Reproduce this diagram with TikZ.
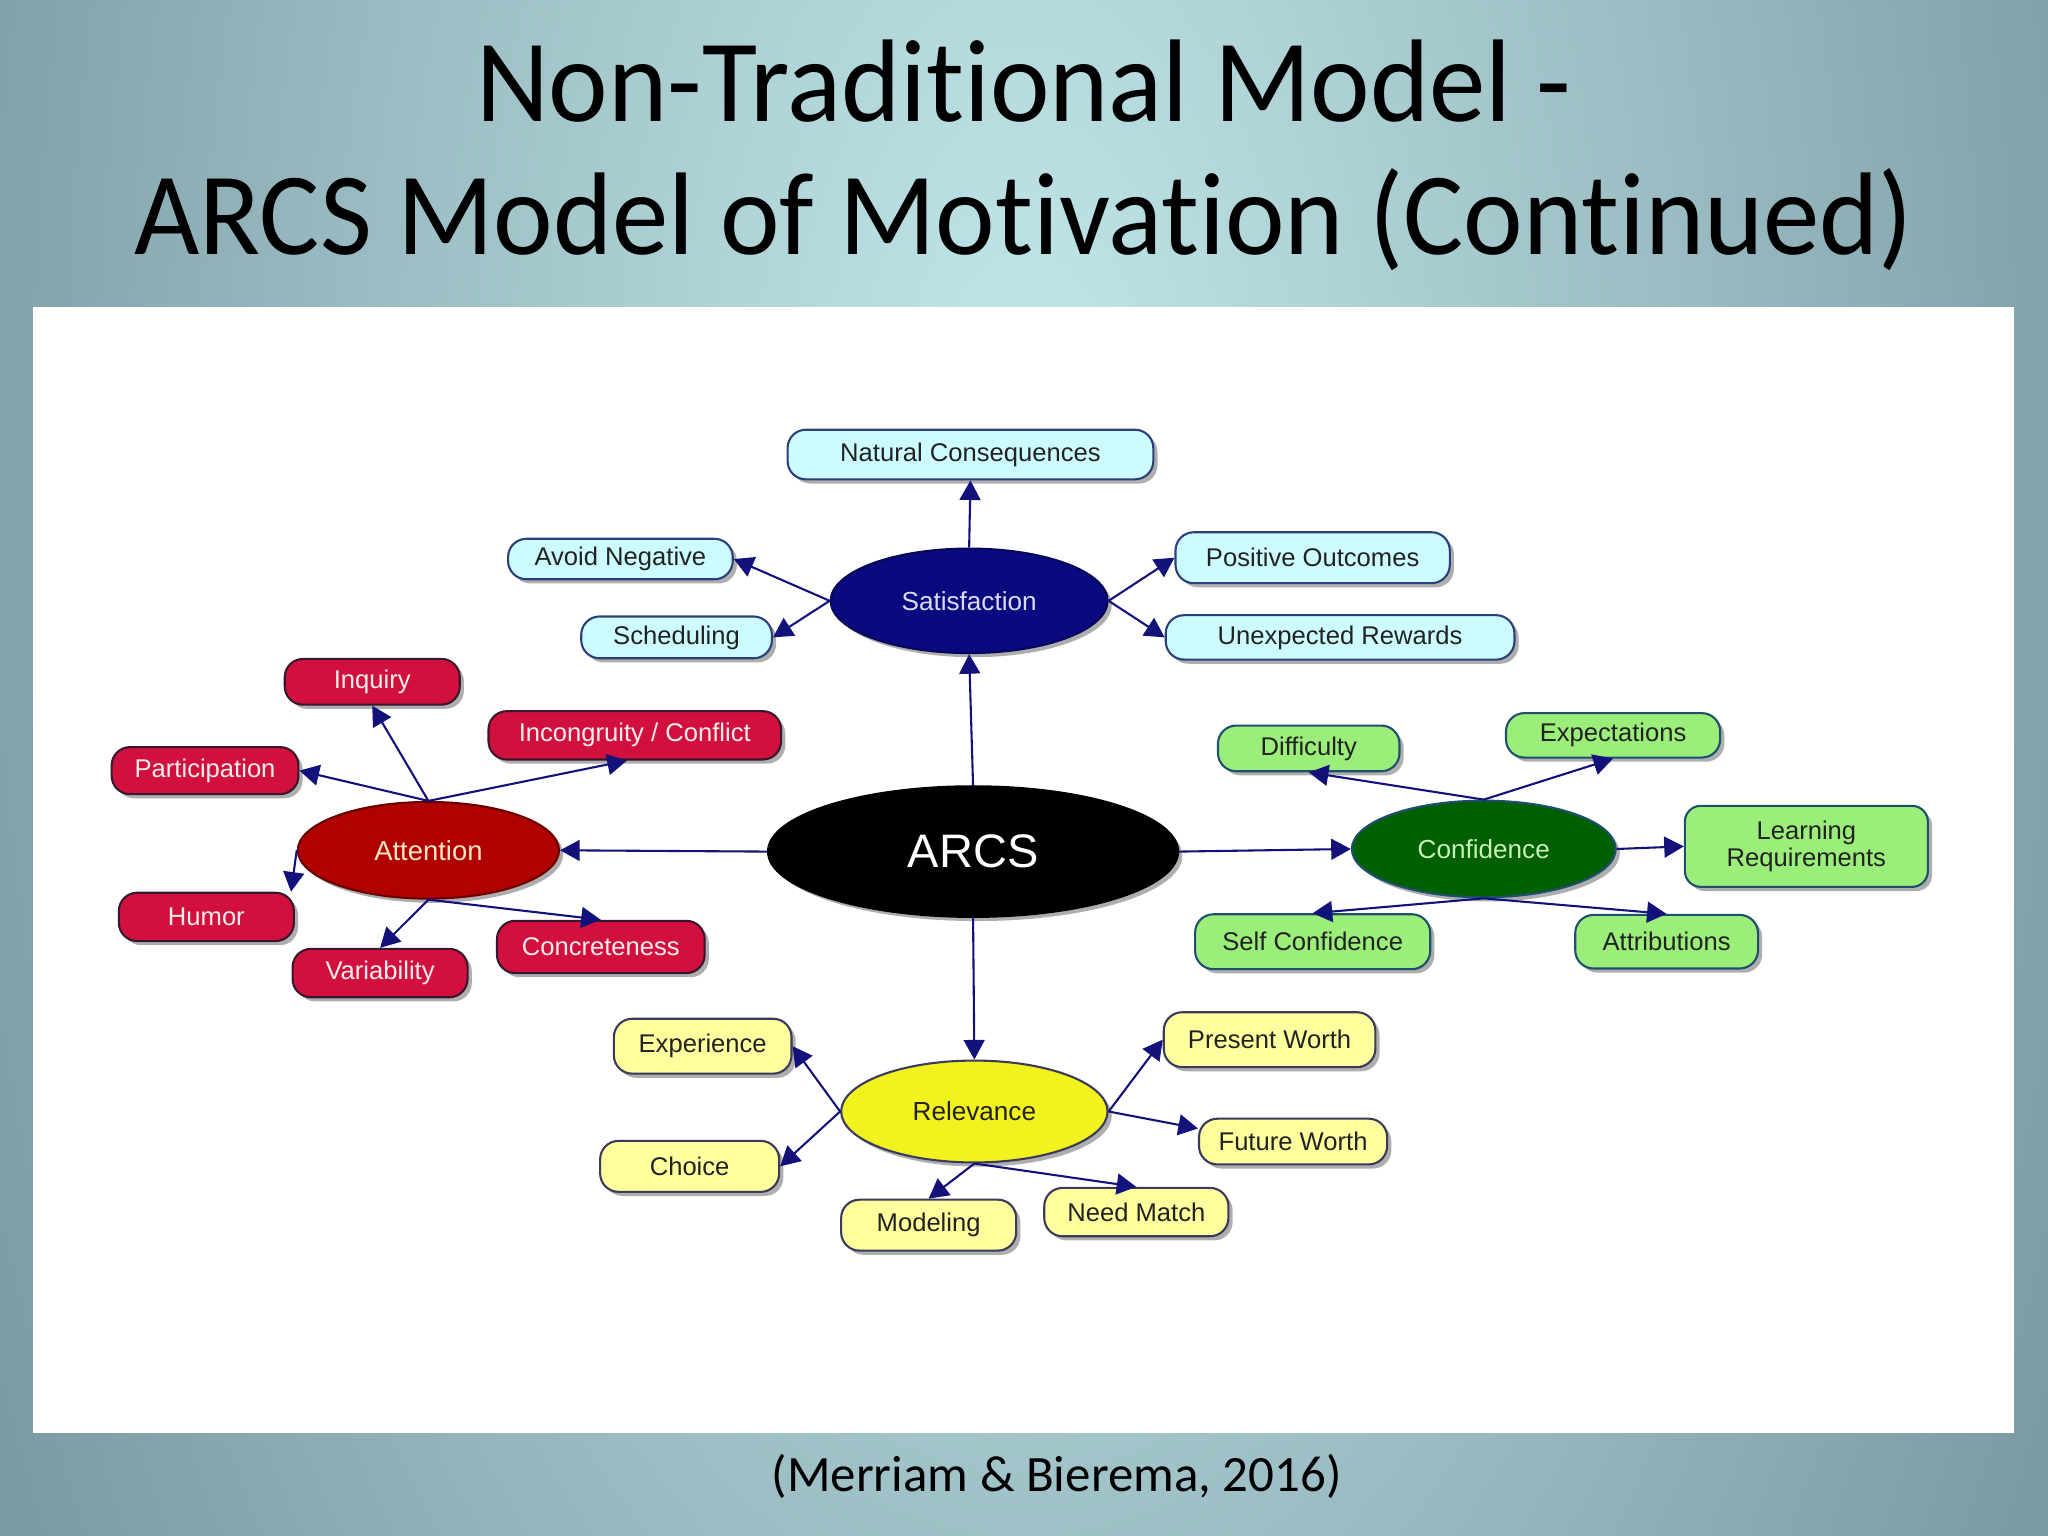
\documentclass[tikz,border=0pt]{standalone}
\usepackage{graphicx}
\usepackage{fontspec}
\setmainfont{Liberation Sans}
\newfontfamily\titlefont[Ligatures=NoCommon]{Carlito}
\usetikzlibrary{arrows.meta,shapes.geometric,shadows}
\definecolor{bgc}{HTML}{C2E8EA}
\definecolor{bge}{HTML}{72909A}
\definecolor{arrowc}{HTML}{12127A}
\definecolor{satfill}{HTML}{0A0A80}
\definecolor{sattext}{HTML}{DCDCF0}
\definecolor{satbox}{HTML}{CCFCFF}
\definecolor{satline}{HTML}{2B3F7A}
\definecolor{attfill}{HTML}{B00000}
\definecolor{atttext}{HTML}{FFE6C8}
\definecolor{attbox}{HTML}{D1103D}
\definecolor{attboxtext}{HTML}{FAEDED}
\definecolor{attline}{HTML}{3A1530}
\definecolor{conffill}{HTML}{006000}
\definecolor{conftext}{HTML}{C8F0B8}
\definecolor{confbox}{HTML}{9CEE7A}
\definecolor{confline}{HTML}{1F4F6F}
\definecolor{relfill}{HTML}{F2F21E}
\definecolor{relbox}{HTML}{FFFF9E}
\definecolor{relline}{HTML}{3A3A5A}
\definecolor{darktext}{HTML}{222222}
\tikzset{
  sz/.style 2 args={minimum width=#1*0.5pt, minimum height=#2*0.5pt},
  shad/.style={drop shadow={shadow xshift=1.6pt,shadow yshift=-1.6pt,opacity=0.45,fill=black!70}},
  box/.style={draw, line width=0.8pt, rounded corners=7pt, inner sep=0pt, align=center,
    font=\fontsize{9.8}{10.2}\selectfont, shad},
  sbox/.style={box, draw=satline, fill=satbox, text=darktext},
  abox/.style={box, draw=attline, fill=attbox, text=attboxtext},
  cbox/.style={box, draw=confline, fill=confbox, text=darktext},
  rbox/.style={box, draw=relline, fill=relbox, text=darktext},
  ell/.style={ellipse, draw, line width=0.8pt, inner sep=0pt, font=\fontsize{10}{12}\selectfont, shad},
  arr/.style={draw=arrowc, line width=0.8pt, -{Triangle[length=7.5pt,width=8pt]}, fill=arrowc},
  titletext/.style={anchor=base, font=\titlefont\fontsize{45}{50}\selectfont}
}
\begin{document}
\begin{tikzpicture}[x=0.5pt,y=-0.5pt]
% background
\useasboundingbox (0,0) rectangle (1568,1176);
\begin{scope}
  \clip (0,0) rectangle (1568,1176);
  \shade[inner color=bgc, outer color=bge] (784,330) ellipse [x radius=1000, y radius=1900];
\end{scope}
% white panel
\fill[white] (25,235) rectangle (1542,1097);
% titles
\node[titletext] (t1) at (784,93) {\scalebox{0.96}[1]{Non-Traditional Model -}};
\node[titletext] (t2) at (784,195) {\scalebox{0.96}[1]{ARCS Model of Motivation (Continued)}};
\node[anchor=base, font=\titlefont\fontsize{19.5}{22}\selectfont] (cite) at (809,1142) {(Merriam \& Bierema, 2016)};

% central ellipses
\node[ell, sz={314}{100}, fill=black, draw=black, text=white, font=\fontsize{18}{20}\selectfont] (arcs) at (745,652) {ARCS};
\node[ell, sz={212}{80}, fill=satfill, draw=satfill!70!black, text=sattext] (sat) at (742,460) {Satisfaction};
\node[ell, sz={200}{74}, fill=attfill, draw=attfill!60!black, text=atttext, font=\fontsize{10.5}{12}\selectfont] (att) at (328,651) {Attention};
\node[ell, sz={202}{74}, fill=conffill, draw=confline, text=conftext] (conf) at (1136,650) {Confidence};
\node[ell, sz={204}{78}, fill=relfill, draw=relline, text=darktext] (rel) at (746,851) {Relevance};

% satisfaction children
\node[sbox, sz={280}{38}] (nat) at (743,348) {Natural Consequences};
\node[sbox, sz={172}{31}] (avoid) at (475,428) {Avoid Negative};
\node[sbox, sz={146}{32}] (sched) at (518,488) {Scheduling};
\node[sbox, sz={210}{39}] (pos) at (1005,427) {Positive Outcomes};
\node[sbox, sz={267}{34}] (unexp) at (1026,488) {Unexpected Rewards};

% attention children
\node[abox, sz={134}{35}] (inq) at (285,522) {Inquiry};
\node[abox, sz={224}{37}] (inc) at (486,563) {Incongruity / Conflict};
\node[abox, sz={143}{36}] (part) at (157,590) {Participation};
\node[abox, sz={134}{37}] (hum) at (158,702) {Humor};
\node[abox, sz={134}{37}] (var) at (291,745) {Variability};
\node[abox, sz={159}{40}] (conc) at (460,725) {Concreteness};

% confidence children
\node[cbox, sz={139}{35}] (diff) at (1002,573) {Difficulty};
\node[cbox, sz={164}{34}] (expc) at (1235,563) {Expectations};
\node[cbox, sz={186}{62}, rounded corners=6pt] (lreq) at (1383,648) {Learning\\Requirements};
\node[cbox, sz={180}{42}] (selfc) at (1005,721) {Self Confidence};
\node[cbox, sz={140}{41}] (attr) at (1276,721) {Attributions};

% relevance children
\node[rbox, sz={136}{42}] (expr) at (538,801) {Experience};
\node[rbox, sz={137}{39}] (choice) at (528,893) {Choice};
\node[rbox, sz={134}{39}] (model) at (711,938) {Modeling};
\node[rbox, sz={141}{37}] (need) at (870,928) {Need Match};
\node[rbox, sz={162}{42}] (pres) at (972,796) {Present Worth};
\node[rbox, sz={144}{35}] (fut) at (990,874) {Future Worth};

% connectors from ARCS
\draw[arr] (arcs.north) -- (sat.south);
\draw[arr] (arcs.west) -- (att.east);
\draw[arr] (arcs.east) -- (conf.west);
\draw[arr] (arcs.south) -- (rel.north);

% satisfaction
\draw[arr] (sat.north) -- (nat.south);
\draw[arr] (sat.west) -- (avoid.east);
\draw[arr] (sat.west) -- (sched.east);
\draw[arr] (sat.east) -- (pos.west);
\draw[arr] (sat.east) -- (unexp.west);

% attention
\draw[arr] (att.north) -- (inq.south);
\draw[arr] (att.north) -- (part.east);
\draw[arr] (att.north) -- ([xshift=-3pt]inc.south);
\draw[arr] (att.west) -- ([xshift=-1.5pt]hum.north east);
\draw[arr] (att.south) -- (var.north);
\draw[arr] (att.south) -- (conc.north);

% confidence
\draw[arr] (conf.north) -- (diff.south);
\draw[arr] (conf.north) -- (expc.south);
\draw[arr] (conf.east) -- (lreq.west);
\draw[arr] (conf.south) -- (selfc.north);
\draw[arr] (conf.south) -- (attr.north);

% relevance
\draw[arr] (rel.west) -- (expr.east);
\draw[arr] (rel.west) -- (choice.east);
\draw[arr] (rel.east) -- (pres.west);
\draw[arr] (rel.east) -- ([yshift=5pt]fut.west);
\draw[arr] (rel.south) -- (model.north);
\draw[arr] (rel.south) -- (need.north);
\end{tikzpicture}
\end{document}
